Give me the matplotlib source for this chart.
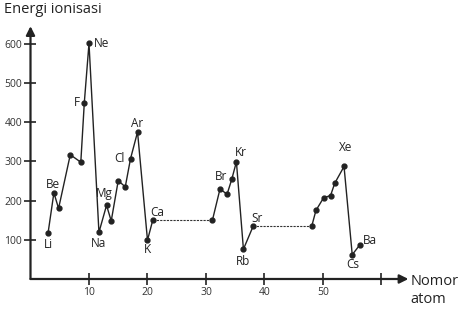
import matplotlib.pyplot as plt

plt.rcParams['font.family'] = ['Open Sans', 'DejaVu Sans']

# values
nomor = [3, 4, 4.8, 6.8, 8.6, 9.2, 10.0,
         11.7, 13.0, 13.8, 15.0, 16.2, 17.1, 18.3, 20.0, 20.9,
         31.1, 32.4, 33.6, 34.4, 35.2, 36.4, 38.1,
         48.1, 48.8, 50.1, 51.3, 52.0, 53.6, 55.0, 56.3]
energi = [117, 220, 180, 317, 298, 450, 601,
          119, 188, 148, 251, 235, 307, 375, 99, 150,
          150, 230, 216, 254, 299, 76, 136,
          136, 175, 207, 213, 244, 287, 62, 87]
# solid runs (index ranges), dashed gaps join them
runs = [(0, 16), (16, 23), (23, 31)]

label_idx = [0, 1, 5, 6, 7, 8, 12, 13, 14, 15, 17, 20, 21, 22, 28, 29, 30]
label_txt = ['Li', 'Be', 'F', 'Ne', 'Na', 'Mg', 'Cl', 'Ar', 'K', 'Ca',
             'Br', 'Kr', 'Rb', 'Sr', 'Xe', 'Cs', 'Ba']
# label offsets in pixels (dx, dy)
label_off = [(0, -11), (-1, 8), (-7, 0), (13, 0), (0, -11), (-2, 12),
             (-11, 0), (0, 9), (0, -9), (4, 8), (1, 12), (4, 9), (0, -12),
             (4, 7), (2, 19), (1, -10), (10, 4)]

xticks = [10, 20, 30, 40, 50, 60]
xticklabels = ['10', '20', '30', '40', '50', '']
yticks = [100, 200, 300, 400, 500, 600]

fig = plt.figure(figsize=(4.6, 3.12), dpi=100)
ax = fig.add_axes([0.0663, 0.1058, 0.8393, 0.8166])
ax.set_xlim(0, 66)
ax.set_ylim(0, 650)

for a, b in runs:
    ax.plot(nomor[a:b], energi[a:b], color='#222222', lw=1.0,
            marker='o', ms=3.5, zorder=3)
for a, b in runs[:-1]:
    ax.plot([nomor[b - 1], nomor[b]], [energi[b - 1], energi[b]],
            color='#333333', lw=0.8, ls=(0, (2, 1)), zorder=2)

for i, t, off in zip(label_idx, label_txt, label_off):
    ax.annotate(t, (nomor[i], energi[i]), xytext=off, textcoords='offset pixels',
                ha='center', va='center', fontsize=8.5, color='#222222')

for s in ax.spines.values():
    s.set_visible(False)

# axis arrows
ax.annotate('', xy=(64.6, 0), xytext=(0, 0), annotation_clip=False,
            arrowprops=dict(arrowstyle='-|>', lw=1.6, color='#222222',
                            mutation_scale=13, shrinkA=0, shrinkB=0))
ax.annotate('', xy=(0, 645), xytext=(0, 0), annotation_clip=False,
            arrowprops=dict(arrowstyle='-|>', lw=1.6, color='#222222',
                            mutation_scale=13, shrinkA=0, shrinkB=0))

ax.set_xticks(xticks)
ax.set_xticklabels(xticklabels)
ax.set_yticks(yticks)
ax.tick_params(direction='inout', length=8, width=1.2, color='#222222',
               labelsize=7.5, labelcolor='#333333', pad=2)

fig.text(0.008, 0.968, 'Energi ionisasi', fontsize=10.5, ha='left', va='center',
         color='#222222')
fig.text(0.892, 0.07, 'Nomor\natom', fontsize=10.5, ha='left', va='center',
         color='#222222', linespacing=1.3)

fig.savefig('out.png', dpi=100)
